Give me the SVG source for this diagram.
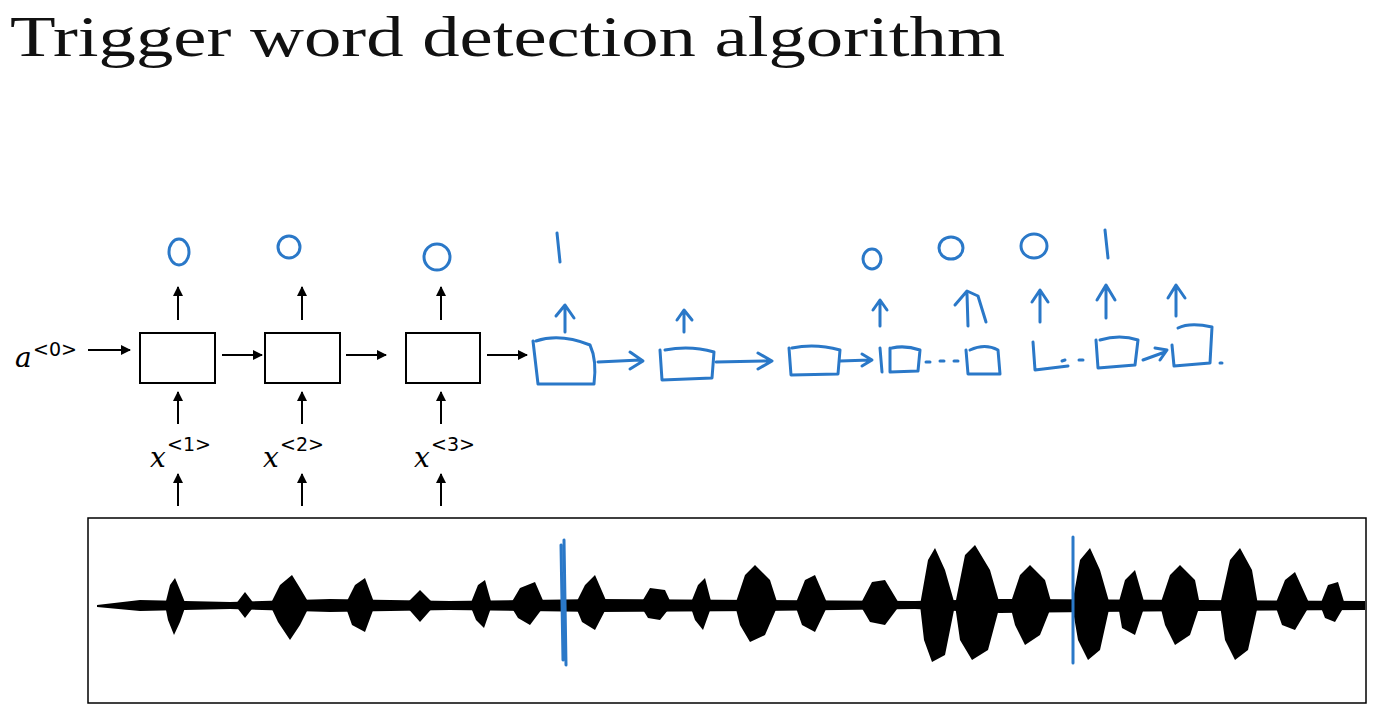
<svg xmlns="http://www.w3.org/2000/svg" width="1379" height="709" viewBox="0 0 1379 709">
<defs>
<marker id="ah" markerWidth="10" markerHeight="10" refX="9" refY="5" orient="auto" markerUnits="userSpaceOnUse"><path d="M0,0 L10,5 L0,10 Z" fill="#000"/></marker>
<style>
.t{font-family:"Liberation Serif",serif;fill:#111}
.m{font-family:"DejaVu Serif","Liberation Serif",serif;font-style:italic;fill:#000}
.s{font-family:"DejaVu Sans","Liberation Sans",sans-serif;fill:#000}
.box{fill:#fff;stroke:#000;stroke-width:2}
.ar{stroke:#000;stroke-width:2;fill:none;marker-end:url(#ah)}
.b{stroke:#2a78c8;stroke-width:3;fill:none;stroke-linecap:round;stroke-linejoin:round}
.w{fill:#000}
</style>
</defs>
<rect width="1379" height="709" fill="#fff"/>
<text class="t" x="10" y="56" font-size="58" textLength="995" lengthAdjust="spacingAndGlyphs">Trigger word detection algorithm</text>
<g id="n1"><rect class="box" x="140" y="333" width="75" height="50"/></g>
<g id="n2"><rect class="box" x="265" y="333" width="75" height="50"/></g>
<g id="n3"><rect class="box" x="406" y="333" width="74" height="50"/></g>
<g id="labels">
<text class="m" x="15" y="367" font-size="28">a</text><text class="s" x="33" y="356" font-size="19">&lt;0&gt;</text>
<text class="m" x="150" y="467" font-size="28">x</text><text class="s" x="167" y="451" font-size="19">&lt;1&gt;</text>
<text class="m" x="263" y="467" font-size="28">x</text><text class="s" x="280" y="451" font-size="19">&lt;2&gt;</text>
<text class="m" x="414" y="467" font-size="28">x</text><text class="s" x="431" y="451" font-size="19">&lt;3&gt;</text>
</g>
<g id="connectors">
<line class="ar" x1="88" y1="350" x2="130" y2="350"/>
<line class="ar" x1="222" y1="355" x2="262" y2="355"/>
<line class="ar" x1="346" y1="355" x2="386" y2="355"/>
<line class="ar" x1="487" y1="355" x2="527" y2="355"/>
<line class="ar" x1="178" y1="320" x2="178" y2="287"/>
<line class="ar" x1="302" y1="320" x2="302" y2="287"/>
<line class="ar" x1="441" y1="320" x2="441" y2="287"/>
<line class="ar" x1="178" y1="424" x2="178" y2="392"/>
<line class="ar" x1="302" y1="424" x2="302" y2="392"/>
<line class="ar" x1="441" y1="424" x2="441" y2="392"/>
<line class="ar" x1="178" y1="506" x2="178" y2="474"/>
<line class="ar" x1="302" y1="506" x2="302" y2="474"/>
<line class="ar" x1="441" y1="506" x2="441" y2="474"/>
</g>
<g id="handwriting">
<ellipse class="b" cx="179" cy="252" rx="10" ry="13"/>
<ellipse class="b" cx="289" cy="247" rx="11" ry="11"/>
<ellipse class="b" cx="437" cy="257" rx="13" ry="13"/>
<path class="b" d="M557,233 L560,262"/>
<ellipse class="b" cx="872" cy="259" rx="9" ry="10"/>
<ellipse class="b" cx="951" cy="248" rx="12" ry="11"/>
<ellipse class="b" cx="1034" cy="246" rx="13" ry="12"/>
<path class="b" d="M1105,230 L1108,258"/>
<path class="b" d="M565,332 L565,307 M556,316 L565,305 L574,318"/>
<path class="b" d="M684,332 L684,312 M677,320 L684,310 L692,320"/>
<path class="b" d="M880,326 L880,302 M873,310 L880,300 L887,310"/>
<path class="b" d="M968,326 L967,294 M955,305 L967,291 L978,296 L986,322"/>
<path class="b" d="M1040,322 L1040,292 M1032,302 L1040,290 L1048,302"/>
<path class="b" d="M1106,318 L1106,288 M1097,300 L1106,285 L1115,300"/>
<path class="b" d="M1176,316 L1176,288 M1168,298 L1176,285 L1185,298"/>
<path class="b" d="M533,341 L538,384 L594,384 Q597,360 590,345 Q560,333 536,341"/>
<path class="b" d="M598,362 L640,360 M630,352 L643,361 L630,369"/>
<path class="b" d="M660,350 L662,380 L712,378 L714,352 Q690,345 665,350"/>
<path class="b" d="M716,362 L768,361 M758,353 L772,361 L758,369"/>
<path class="b" d="M789,348 L791,375 L838,374 L840,350 Q815,343 792,348"/>
<path class="b" d="M840,361 L870,360 M862,354 L872,360 L862,366 M880,348 L882,372 M890,348 L890,372 L918,371 L920,350 Q905,345 892,348"/>
<path class="b" d="M926,362 L930,362 M940,361 L944,361 M954,361 L958,361 M966,350 L968,374 L1000,374 L998,350 Q985,343 970,350"/>
<path class="b" d="M1033,342 L1035,370 L1068,366 M1062,361 L1065,360 M1079,360 L1083,360 M1096,340 L1098,368 L1135,365 L1138,340 Q1120,334 1100,340"/>
<path class="b" d="M1143,360 L1165,352 M1155,348 L1167,350 L1160,360 M1172,345 L1174,366 L1210,363 L1212,327 Q1190,322 1178,328 M1220,363 L1222,363"/>
</g>
<g id="waveform">
<rect x="88" y="518" width="1278" height="185" fill="#fff" stroke="#000" stroke-width="1.5"/>
<path class="w" d="M97,605 L140,600 L230,602 L330,599 L450,601 L600,599 L760,600 L915,601 L1000,599 L1200,600 L1365,601 L1365,610 L1200,611 L1000,613 L915,609 L760,611 L600,612 L450,610 L330,612 L230,609 L140,611 L97,607 Z"/>
<path class="w" d="M165,605 L170,585 L175,578 L180,590 L186,605 L180,622 L174,635 L168,620 Z
M235,605 L245,592 L255,605 L245,618 Z
M270,605 L280,585 L292,575 L300,588 L310,605 L300,625 L290,640 L278,622 Z
M345,605 L355,585 L365,578 L375,605 L365,632 L352,625 Z
M405,605 L420,590 L435,605 L420,622 Z
M470,605 L478,585 L485,580 L492,605 L484,628 L476,620 Z
M510,605 L520,588 L535,582 L545,605 L530,625 L518,618 Z
M575,605 L585,585 L595,575 L608,605 L595,630 L582,622 Z
M640,605 L650,588 L665,590 L672,605 L660,620 L648,618 Z
M690,605 L698,585 L705,578 L712,605 L703,630 L695,620 Z
M735,605 L745,575 L755,565 L770,580 L778,605 L765,635 L750,642 L740,625 Z
M795,605 L805,580 L815,575 L828,605 L815,632 L802,625 Z
M860,605 L872,582 L885,580 L900,605 L885,625 L870,622 Z
M920,605 L928,560 L935,548 L945,570 L955,605 L945,655 L932,662 L924,640 Z
M955,605 L965,555 L975,545 L990,570 L1000,605 L988,650 L972,660 L960,640 Z
M1010,605 L1020,575 L1030,565 L1045,580 L1052,605 L1040,635 L1025,645 L1015,625 Z
M1072,605 L1080,560 L1090,548 L1100,570 L1110,605 L1100,650 L1088,660 L1078,640 Z
M1118,605 L1125,580 L1135,570 L1145,605 L1135,635 L1122,628 Z
M1160,605 L1170,575 L1180,565 L1195,580 L1200,605 L1190,635 L1175,645 L1165,625 Z
M1220,605 L1230,560 L1240,548 L1252,570 L1258,605 L1248,650 L1235,660 L1225,640 Z
M1275,605 L1285,580 L1295,572 L1310,605 L1295,630 L1282,625 Z
M1320,605 L1328,585 L1338,582 L1345,605 L1335,622 L1325,618 Z"/>
<path class="b" d="M564,540 L566,665 M561,545 L563,660"/>
<path class="b" d="M1073,537 L1073,663"/>
</g>
</svg>
